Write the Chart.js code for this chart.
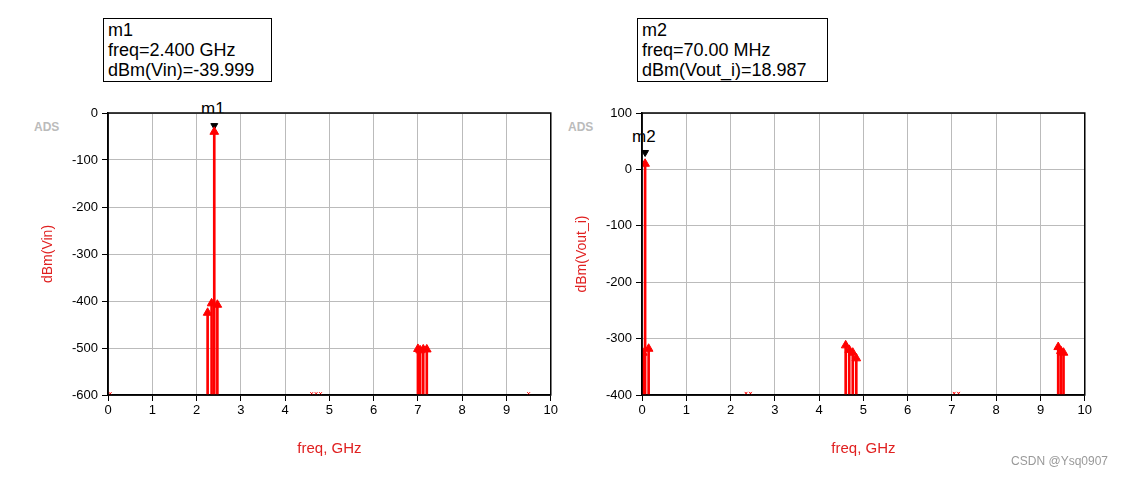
<!DOCTYPE html>
<html><head><meta charset="utf-8">
<script src="https://cdn.jsdelivr.net/npm/chart.js@4"></script>
<style>
body{margin:0;background:#fff;font-family:"Liberation Sans",Arial,sans-serif;width:1123px;height:478px;position:relative;overflow:hidden}
.c{position:absolute;top:100px;width:560px;height:370px}
.box{position:absolute;border:1px solid #000;font-size:18px;line-height:20px;padding:1px 4px;color:#000}
.lab{position:absolute;font-size:17px}
.ads{position:absolute;font-size:12px;font-weight:bold;color:#bbb}
</style></head><body>
<div class="box" style="left:103px;top:18px;width:159px;height:60px">m1<br>freq=2.400 GHz<br>dBm(Vin)=-39.999</div>
<div class="box" style="left:637px;top:18px;width:181px;height:60px">m2<br>freq=70.00 MHz<br>dBm(Vout_i)=18.987</div>
<div class="ads" style="left:34px;top:120px">ADS</div>
<div class="ads" style="left:568px;top:120px">ADS</div>
<div class="lab" style="left:201px;top:99px">m1</div>
<div class="lab" style="left:632px;top:127px">m2</div>
<div class="c" style="left:0"><canvas id="a"></canvas></div>
<div class="c" style="left:534px"><canvas id="b"></canvas></div>
<div style="position:absolute;right:15px;top:454px;font-size:12px;color:#999">CSDN @Ysq0907</div>
<script>
const leftFreq=[2.25,2.34,2.40,2.47,7.0,7.05,7.12,7.2];
const leftVal=[-425,-405,-40,-408,-502,-505,-503,-503];
const leftNoiseFreq=[0.05,4.6,4.7,4.8,9.5];
const leftMarker={f:2.4,v:-39.999};
const rightFreq=[0.02,0.07,0.15,4.6,4.68,4.76,4.84,9.4,9.46,9.52];
const rightVal=[-325,10,-318,-312,-320,-325,-335,-315,-322,-325];
const rightNoiseFreq=[2.35,2.45,7.05,7.15];
const rightMarker={f:0.07,v:18.987};
const xTicks=[0,1,2,3,4,5,6,7,8,9,10];

function make(id,fr,vals,noise,mk,ymin,ymax,title){
  const bars=fr.map((f,i)=>({x:f,y:[ymin,vals[i]]}));
  new Chart(document.getElementById(id),{
    type:'bar',
    data:{datasets:[
      {type:'bar',data:bars,backgroundColor:'#ff0000',barThickness:2,grouped:false},
      {type:'scatter',data:fr.map((f,i)=>({x:f,y:vals[i]})),pointStyle:'triangle',pointRadius:5,backgroundColor:'#ff0000',borderColor:'#ff0000'},
      {type:'scatter',data:noise.map(f=>({x:f,y:ymin+3})),pointStyle:'crossRot',pointRadius:2,borderColor:'#ff0000',borderWidth:1},
      {type:'scatter',data:[{x:mk.f,y:mk.v+(ymax-ymin)*0.022}],pointStyle:'triangle',rotation:180,pointRadius:4,backgroundColor:'#000',borderColor:'#000'}
    ]},
    options:{responsive:true,maintainAspectRatio:false,animation:false,
      layout:{padding:{top:13,right:7,left:36,bottom:0}},
      plugins:{legend:{display:false},tooltip:{enabled:false}},
      scales:{
        x:{type:'linear',min:0,max:10,offset:false,
          afterBuildTicks:a=>{a.ticks=xTicks.map(v=>({value:v}));},
          afterFit:a=>{a.height=75;},
          grid:{color:'#bbb',tickColor:'#000',tickLength:6,offset:false},border:{color:'#000',width:1.5},
          ticks:{color:'#000',font:{size:13,family:'Liberation Sans'},padding:2},
          title:{display:true,text:'freq, GHz',color:'#e02020',font:{size:15,family:'Liberation Sans'},padding:{top:12,bottom:12}}},
        y:{min:ymin,max:ymax,
          afterFit:a=>{a.width=72;},
          grid:{color:'#bbb',tickColor:'#000',tickLength:6},border:{color:'#000',width:1.5},
          ticks:{stepSize:100,color:'#000',font:{size:13,family:'Liberation Sans'},padding:4},
          title:{display:true,text:title,color:'#e02020',font:{size:14,family:'Liberation Sans'},padding:{bottom:0}}}
      }},
    plugins:[{id:'frame',afterDraw(c){const a=c.chartArea,x=c.ctx;x.save();x.strokeStyle='#000';x.lineWidth=1.5;x.strokeRect(a.left,a.top,a.right-a.left,a.bottom-a.top);x.restore();}}]
  });
}
make('a',leftFreq,leftVal,leftNoiseFreq,leftMarker,-600,0,'dBm(Vin)');
make('b',rightFreq,rightVal,rightNoiseFreq,rightMarker,-400,100,'dBm(Vout_i)');
</script></body></html>
